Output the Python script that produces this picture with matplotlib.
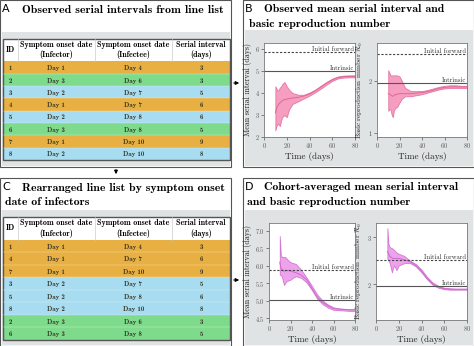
import matplotlib
matplotlib.use('Agg')
import matplotlib.pyplot as plt
from matplotlib.patches import Rectangle, FancyArrowPatch

plt.rcParams['axes.formatter.use_mathtext'] = True
plt.rcParams['mathtext.fontset'] = 'cm'

W, H = 474, 346

# line list
case_id = [1, 2, 3, 4, 5, 6, 7, 8]
infector_day = [1, 3, 2, 1, 2, 3, 1, 2]
infectee_day = [4, 6, 7, 7, 8, 8, 10, 10]
serial_interval = [3, 3, 5, 6, 6, 5, 9, 8]
header = ['ID', 'Symptom onset date\n(Infector)', 'Symptom onset date\n(Infectee)', 'Serial interval\n(days)']
day_colors = {1: '#e8b042', 2: '#a8dcf0', 3: '#7edb8c'}

# observed estimates (panel B)
t_obs = [10, 11, 12, 13, 14, 15, 16, 18, 20, 22, 25, 30, 35, 40, 45, 50, 55, 60, 65, 70, 75, 80]
si_obs_mid = [3.1, 3.3, 3.4, 3.5, 3.55, 3.6, 3.65, 3.7, 3.72, 3.74, 3.77, 3.8, 3.86, 3.95, 4.1, 4.27, 4.45, 4.6, 4.7, 4.74, 4.75, 4.75]
si_obs_hi = [4.3, 4.2, 4.1, 4.15, 4.25, 4.3, 4.4, 4.5, 4.3, 4.15, 4.0, 3.92, 3.92, 4.02, 4.15, 4.33, 4.5, 4.65, 4.75, 4.79, 4.8, 4.8]
si_obs_lo = [2.3, 2.5, 2.6, 2.55, 2.5, 2.75, 2.9, 3.0, 2.9, 3.25, 3.5, 3.62, 3.75, 3.88, 4.03, 4.2, 4.38, 4.55, 4.66, 4.7, 4.71, 4.71]
r0_obs_mid = [1.75, 1.74, 1.73, 1.71, 1.7, 1.71, 1.73, 1.74, 1.75, 1.75, 1.75, 1.75, 1.76, 1.77, 1.79, 1.82, 1.85, 1.87, 1.88, 1.88, 1.88, 1.88]
r0_obs_hi = [2.2, 2.15, 2.1, 2.1, 2.1, 2.1, 2.1, 2.1, 2.08, 2.0, 1.86, 1.8, 1.8, 1.8, 1.82, 1.85, 1.88, 1.9, 1.91, 1.91, 1.9, 1.9]
r0_obs_lo = [1.42, 1.45, 1.45, 1.35, 1.3, 1.42, 1.47, 1.5, 1.58, 1.65, 1.7, 1.7, 1.72, 1.74, 1.77, 1.8, 1.83, 1.85, 1.86, 1.86, 1.86, 1.86]

# cohort-averaged estimates (panel D)
t_coh = [10, 11, 12, 13, 14, 15, 16, 18, 20, 22, 25, 30, 35, 40, 45, 50, 55, 60, 65, 70, 75, 80]
si_coh_mid = [6.1, 5.95, 5.9, 5.87, 5.85, 5.85, 5.86, 5.86, 5.85, 5.83, 5.8, 5.73, 5.6, 5.35, 5.1, 4.95, 4.85, 4.78, 4.76, 4.75, 4.74, 4.74]
si_coh_hi = [6.85, 6.3, 6.25, 6.25, 6.25, 6.25, 6.22, 6.15, 6.1, 6.08, 6.05, 5.88, 5.66, 5.42, 5.17, 5.0, 4.89, 4.81, 4.78, 4.77, 4.76, 4.76]
si_coh_lo = [5.75, 5.72, 5.7, 5.55, 5.45, 5.5, 5.55, 5.58, 5.6, 5.65, 5.7, 5.65, 5.52, 5.3, 5.05, 4.9, 4.8, 4.74, 4.73, 4.72, 4.71, 4.71]
r0_coh_mid = [2.7, 2.65, 2.6, 2.58, 2.56, 2.55, 2.55, 2.55, 2.55, 2.54, 2.52, 2.48, 2.4, 2.28, 2.12, 2.0, 1.94, 1.9, 1.89, 1.89, 1.89, 1.89]
r0_coh_hi = [3.2, 2.85, 2.8, 2.78, 2.77, 2.75, 2.73, 2.68, 2.65, 2.63, 2.6, 2.5, 2.43, 2.31, 2.15, 2.03, 1.96, 1.92, 1.91, 1.9, 1.9, 1.9]
r0_coh_lo = [2.55, 2.5, 2.45, 2.35, 2.25, 2.35, 2.4, 2.3, 2.4, 2.42, 2.45, 2.45, 2.38, 2.25, 2.1, 1.98, 1.92, 1.89, 1.88, 1.88, 1.88, 1.88]

si_initial_forward, si_intrinsic = 5.88, 5.0
r0_initial_forward, r0_intrinsic = 2.51, 1.96

GRAY = '#dfe3e3'
SERIF = 'cmr10'
SERIF_B = 'cmb10'

fig = plt.figure(figsize=(W / 100, H / 100), dpi=100)
renderer = fig.canvas.get_renderer()


def rect(x0, y0, x1, y1):
    return [x0 / W, 1 - y1 / H, (x1 - x0) / W, (y1 - y0) / H]


def fx(x):
    return x / W


def fy(y):
    return 1 - y / H


def fit_size(text, family, width_px):
    # font size at which a text spans the given number of pixels
    probe = fig.text(0, 0, text, fontsize=10, family=family)
    w = probe.get_window_extent(renderer).width
    probe.remove()
    return 10 * width_px / w


def panel(x0, y0, x1, y1, gray_top, letter, lines, first_end):
    fig.patches.append(Rectangle((fx(x0), fy(y1)), fx(x1) - fx(x0), fy(y0) - fy(y1),
                                 transform=fig.transFigure, facecolor='white',
                                 edgecolor='#555555', lw=0.8, zorder=-3))
    fig.patches.append(Rectangle((fx(x0 + 1.5), fy(y1 - 1.5)), fx(x1 - x0 - 3), fy(gray_top) - fy(y1 - 1.5),
                                 transform=fig.transFigure, facecolor=GRAY,
                                 edgecolor='none', zorder=-2))
    fig.text(fx(x0 + 2), fy(y0 + 9), letter, fontsize=8, family='DejaVu Sans',
             va='center', ha='left')
    size = fit_size(lines[0][2], SERIF_B, first_end - lines[0][0])
    for lx, ly, t in lines:
        fig.text(fx(lx), fy(ly), t, fontsize=size, family=SERIF_B, va='center', ha='left')


def draw_table(x0, y0, x1, y1, order):
    ax = fig.add_axes(rect(x0, y0, x1, y1))
    n = len(order)
    head = 1.82
    ax.set_xlim(0, 1)
    ax.set_ylim(n + head, 0)
    ax.axis('off')
    col_edges = [0, 0.064, 0.404, 0.744, 1.0]
    head_size = fit_size('Symptom onset date', SERIF_B, 72)
    cell_size = fit_size('Day 10', SERIF_B, 21)
    ax.add_patch(Rectangle((0, 0), 1, head, facecolor='white', edgecolor='none'))
    for j, label in enumerate(header):
        cx = (col_edges[j] + col_edges[j + 1]) / 2
        ax.text(cx, head / 2, label, ha='center', va='center', fontsize=head_size,
                family=SERIF_B, linespacing=1.2)
        if j > 0:
            ax.plot([col_edges[j]] * 2, [0, head], color='#cccccc', lw=0.5)
    for r, i in enumerate(order):
        y = head + r
        ax.add_patch(Rectangle((0, y), 1, 1, facecolor=day_colors[infector_day[i]],
                               edgecolor='none'))
        vals = [str(case_id[i]), f'Day {infector_day[i]}', f'Day {infectee_day[i]}',
                str(serial_interval[i])]
        for j, v in enumerate(vals):
            cx = (col_edges[j] + col_edges[j + 1]) / 2
            ax.text(cx, y + 0.55, v, ha='center', va='center', fontsize=cell_size,
                    family=SERIF_B, color='#333322')
        if r > 0:
            ax.plot([0, 1], [y, y], color='white', lw=0.3, alpha=0.6)
    ax.add_patch(Rectangle((0, 0), 1, n + head, facecolor='none', edgecolor='#555555',
                           lw=1.0, clip_on=False))


def curve_axes(box, t, mid, lo, hi, fwd, intr, ylim, yticks, ylabel, ylen, color, edge):
    ax = fig.add_axes(rect(*box))
    ax.fill_between(t, lo, hi, color=color, alpha=0.85, lw=0.6, edgecolor=edge)
    ax.plot(t, mid, color=edge, lw=0.7)
    ax.axhline(fwd, color='#444444', ls=(0, (2, 1.5)), lw=0.8)
    ax.axhline(intr, color='#555555', lw=0.8)
    note = fit_size('Initial forward', SERIF, 42)
    ax.text(79, fwd, 'Initial forward', ha='right', va='bottom', fontsize=note,
            family=SERIF, color='#333333')
    ax.text(79, intr, 'Intrinsic', ha='right', va='bottom', fontsize=note,
            family=SERIF, color='#333333')
    ax.set_xlim(0, 80)
    ax.set_ylim(*ylim)
    ax.set_xticks([0, 20, 40, 60, 80])
    ax.set_yticks(yticks)
    ax.tick_params(labelsize=4.6, length=2, width=0.5, pad=1, colors='#555555',
                   labelcolor='#555555')
    for lab in ax.get_xticklabels() + ax.get_yticklabels():
        lab.set_family(SERIF)
    for s in ax.spines.values():
        s.set_color('#777777')
        s.set_linewidth(0.6)
    ax.set_xlabel('Time (days)', fontsize=fit_size('Time (days)', SERIF, 49),
                  family=SERIF, labelpad=1.5, color='#222222')
    ax.set_ylabel(ylabel, fontsize=fit_size(ylabel, SERIF, ylen), family=SERIF,
                  labelpad=2, color='#222222')
    return ax


# panels
panel(0, 0, 231, 167, 32, 'A', [(22, 10, 'Observed serial intervals from line list')], 222)
panel(243, 0, 474, 167, 30, 'B', [(264, 9, 'Observed mean serial interval and'),
                                  (249, 24, 'basic reproduction number')], 443)
panel(0, 178, 231, 346, 210, 'C', [(22, 188, 'Rearranged line list by symptom onset'),
                                   (5, 202, 'date of infectors')], 224)
panel(243, 178, 474, 346, 210, 'D', [(264, 187, 'Cohort-averaged mean serial interval'),
                                     (247, 202, 'and basic reproduction number')], 457)

rows_a = list(range(len(case_id)))
rows_c = sorted(rows_a, key=lambda i: infector_day[i])
draw_table(3, 39, 230, 160, rows_a)
draw_table(3, 217, 230, 340, rows_c)

r0_label = r'Basic reproduction number $\mathcal{R}_0$'
si_label = 'Mean serial interval (days)'
pink, pink_edge = '#f48db5', '#e0679a'
violet, violet_edge = '#e993e9', '#cc6acc'
curve_axes((264, 43, 355, 137), t_obs, si_obs_mid, si_obs_lo, si_obs_hi,
           si_initial_forward, si_intrinsic, (2, 6.27), [2, 3, 4, 5, 6],
           si_label, 93, pink, pink_edge)
curve_axes((377, 43, 467, 137), t_obs, r0_obs_mid, r0_obs_lo, r0_obs_hi,
           r0_initial_forward, r0_intrinsic, (0.92, 2.72), [1, 2],
           r0_label, 97, pink, pink_edge)
curve_axes((269, 223, 355, 320), t_coh, si_coh_mid, si_coh_lo, si_coh_hi,
           si_initial_forward, si_intrinsic + 0.03, (4.45, 7.22),
           [4.5, 5.0, 5.5, 6.0, 6.5, 7.0], si_label, 93, violet, violet_edge)
curve_axes((376, 223, 467, 320), t_coh, r0_coh_mid, r0_coh_lo, r0_coh_hi,
           r0_initial_forward, r0_intrinsic - 0.01, (1.23, 3.31), [2, 3],
           r0_label, 97, violet, violet_edge)

# arrows between panels
for (xa, ya), (xb, yb) in [((231, 83), (242, 83)), ((116, 167), (116, 177)),
                           ((231, 280), (242, 280))]:
    fig.patches.append(FancyArrowPatch((fx(xa), fy(ya)), (fx(xb), fy(yb)),
                                       transform=fig.transFigure, arrowstyle='-|>',
                                       mutation_scale=5, lw=0.8, color='black'))

fig.savefig('out.png', dpi=100)
